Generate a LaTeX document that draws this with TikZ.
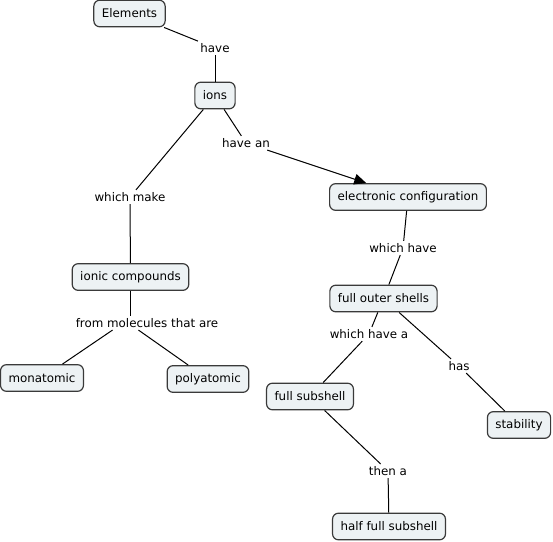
\documentclass[tikz,border=0pt]{standalone}
\usepackage{fontspec}
\setmainfont{DejaVu Sans}
\usepackage{tikz}
\usetikzlibrary{arrows.meta,calc}
\definecolor{boxfill}{HTML}{EDF2F4}
\definecolor{boxline}{HTML}{3A3A3A}

\begin{document}
\begin{tikzpicture}[x=0.75pt,y=-0.75pt,
  concept/.style = {draw=boxline, fill=boxfill, line width=0.9pt, rounded corners=4.5pt,
                    minimum height=20pt, inner xsep=6pt, font=\fontsize{8.9}{10}\selectfont},
  link/.style = {inner sep=1.5pt, font=\fontsize{8.9}{10}\selectfont},
  every path/.style = {line width=0.75pt}]
\useasboundingbox (0,0) rectangle (553,542);
\node[concept] (elements) at (129.5,13.5) {Elements};
\node[link] (have) at (215,48) {have};
\node[concept] (ions) at (215,95.5) {ions};
\node[link] (whichmake) at (130,197) {which make};
\node[link] (havean) at (246,143) {have an};
\node[concept] (config) at (408,197) {electronic configuration};
\node[link] (whichhave) at (403,248) {which have};
\node[concept] (outer) at (383.5,298.5) {full outer shells};
\node[concept] (ionic) at (130.5,277) {ionic compounds};
\node[link] (frommol) at (147,323) {from molecules that are};
\node[concept] (mono) at (42,378) {monatomic};
\node[concept] (poly) at (208,379) {polyatomic};
\node[link] (whichhavea) at (369,334) {which have a};
\node[link] (has) at (459,366) {has};
\node[concept] (subshell) at (310,396.5) {full subshell};
\node[concept] (stability) at (519,425) {stability};
\node[link] (thena) at (388,471) {then a};
\node[concept] (half) at (389,526.5) {half full subshell};
\draw (elements) -- (have);
\draw (have) -- (ions);
\draw (ions) -- (whichmake);
\draw (whichmake) -- (ionic);
\draw (ions) -- (havean);
\draw[-{Triangle[length=9pt,width=8pt]}] (havean) -- (config);
\draw (config) -- (whichhave);
\draw (whichhave) -- (outer);
% links hang from the middle of the box, not from the label centre
\draw (ionic) -- (ionic |- frommol.north);
\draw ($(frommol.south -| ionic)+(-18,0)$) -- (mono);
\draw ($(frommol.south -| ionic)+(8,0)$) -- (poly);
\draw (outer) -- (whichhavea);
\draw (whichhavea) -- (subshell);
\draw (outer) -- (has);
\draw (has) -- (stability);
\draw (subshell) -- (thena);
\draw (thena) -- (half);
\end{tikzpicture}
\end{document}
